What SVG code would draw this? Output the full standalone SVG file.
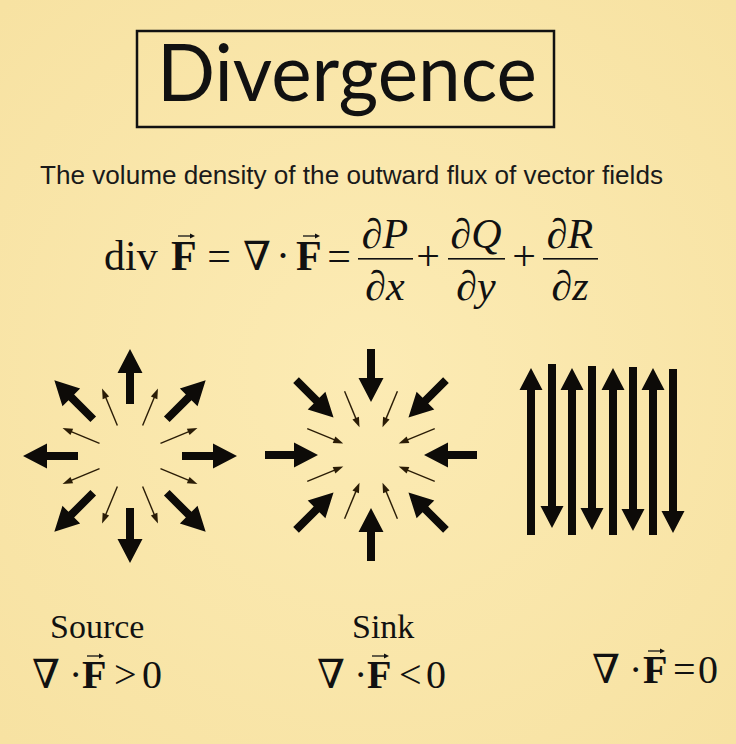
<svg xmlns="http://www.w3.org/2000/svg" xmlns:xlink="http://www.w3.org/1999/xlink" width="736" height="744" viewBox="0 0 736 744">
<style>
.serif{font-family:"Liberation Serif","DejaVu Serif",serif;fill:#111}
.m{font-size:42px}
.b{font-weight:bold}
.i{font-style:italic}
.lab{font-size:34px}
.row{font-size:40px}
.nab{font-family:"DejaVu Serif","Liberation Serif",serif}
.thin line{stroke:#2a1c06;stroke-width:1.4}
.thin polygon{fill:#2a1c06}
.big{fill:#0d0b08}
.vec line{stroke:#111;stroke-width:1.3}
.vec polygon{fill:#111}
</style>
<defs>
<radialGradient id="bg" cx="50%" cy="50%" r="70%">
<stop offset="0" stop-color="#fcebb4"/>
<stop offset="1" stop-color="#f7e2a2"/>
</radialGradient>
<polygon id="bigOut" points="52,-4 83,-4 83,-12.5 107,0 83,12.5 83,4 52,4"/>
<polygon id="bigIn" points="106,-4 77,-4 77,-12.5 53,0 77,12.5 77,4 106,4"/>
<g id="thinOut" class="thin"><line x1="33" y1="0" x2="65" y2="0"/><polygon points="63,-3.5 73,0 63,3.5"/></g>
<g id="thinIn" class="thin"><line x1="69" y1="0" x2="38" y2="0"/><polygon points="40,-3.5 30,0 40,3.5"/></g>
<g id="vec" class="vec"><line x1="-8" y1="0" x2="6" y2="0"/><polygon points="4,-2.5 9,0 4,2.5"/></g>
<polygon id="upA" points="-4,167 -4,22 -11.5,22 0,0 11.5,22 4,22 4,167"/>
<polygon id="downA" points="-4,0 -4,142 -11.5,142 0,164 11.5,142 4,142 4,0"/>
</defs>
<rect width="736" height="744" fill="url(#bg)"/>

<g id="title">
<rect x="137" y="31" width="417" height="96" fill="none" stroke="#111" stroke-width="2.5"/>
<text x="157" y="101" font-family="Lato,'Open Sans',sans-serif" font-size="80" textLength="380" lengthAdjust="spacingAndGlyphs" fill="#111">Divergence</text>
</g>

<g id="subtitle">
<text x="40" y="184" font-family="'Liberation Sans',Arial,sans-serif" font-size="26" textLength="623" lengthAdjust="spacingAndGlyphs" fill="#1a1a1a">The volume density of the outward flux of vector fields</text>
</g>

<g id="formula" class="serif m">
<text x="104" y="270">div</text>
<text x="171" y="270" class="b">F</text>
<use xlink:href="#vec" transform="translate(186,236)"/>
<text x="219" y="270" text-anchor="middle">=</text>
<text x="257" y="270" text-anchor="middle" class="nab" font-size="40">∇</text>
<text x="283" y="270" text-anchor="middle">·</text>
<text x="296" y="270" class="b">F</text>
<use xlink:href="#vec" transform="translate(311,236)"/>
<text x="339" y="270" text-anchor="middle">=</text>
<text x="385" y="248" text-anchor="middle" class="i">∂P</text>
<rect x="358" y="258" width="55" height="1.6" fill="#111"/>
<text x="385" y="300" text-anchor="middle" class="i">∂x</text>
<text x="428" y="270" text-anchor="middle">+</text>
<text x="476" y="248" text-anchor="middle" class="i">∂Q</text>
<rect x="448" y="258" width="57" height="1.6" fill="#111"/>
<text x="476" y="300" text-anchor="middle" class="i">∂y</text>
<text x="524" y="270" text-anchor="middle">+</text>
<text x="570" y="248" text-anchor="middle" class="i">∂R</text>
<rect x="543" y="258" width="55" height="1.6" fill="#111"/>
<text x="570" y="300" text-anchor="middle" class="i">∂z</text>
</g>

<g id="source">
<g class="big">
<use xlink:href="#bigOut" transform="translate(130,456) rotate(0)"/>
<use xlink:href="#bigOut" transform="translate(130,456) rotate(45)"/>
<use xlink:href="#bigOut" transform="translate(130,456) rotate(90)"/>
<use xlink:href="#bigOut" transform="translate(130,456) rotate(135)"/>
<use xlink:href="#bigOut" transform="translate(130,456) rotate(180)"/>
<use xlink:href="#bigOut" transform="translate(130,456) rotate(225)"/>
<use xlink:href="#bigOut" transform="translate(130,456) rotate(270)"/>
<use xlink:href="#bigOut" transform="translate(130,456) rotate(315)"/>
</g>
<use xlink:href="#thinOut" transform="translate(130,456) rotate(22.5)"/>
<use xlink:href="#thinOut" transform="translate(130,456) rotate(67.5)"/>
<use xlink:href="#thinOut" transform="translate(130,456) rotate(112.5)"/>
<use xlink:href="#thinOut" transform="translate(130,456) rotate(157.5)"/>
<use xlink:href="#thinOut" transform="translate(130,456) rotate(202.5)"/>
<use xlink:href="#thinOut" transform="translate(130,456) rotate(247.5)"/>
<use xlink:href="#thinOut" transform="translate(130,456) rotate(292.5)"/>
<use xlink:href="#thinOut" transform="translate(130,456) rotate(337.5)"/>
</g>

<g id="sink">
<g class="big">
<use xlink:href="#bigIn" transform="translate(371,455) rotate(0)"/>
<use xlink:href="#bigIn" transform="translate(371,455) rotate(45)"/>
<use xlink:href="#bigIn" transform="translate(371,455) rotate(90)"/>
<use xlink:href="#bigIn" transform="translate(371,455) rotate(135)"/>
<use xlink:href="#bigIn" transform="translate(371,455) rotate(180)"/>
<use xlink:href="#bigIn" transform="translate(371,455) rotate(225)"/>
<use xlink:href="#bigIn" transform="translate(371,455) rotate(270)"/>
<use xlink:href="#bigIn" transform="translate(371,455) rotate(315)"/>
</g>
<use xlink:href="#thinIn" transform="translate(371,455) rotate(22.5)"/>
<use xlink:href="#thinIn" transform="translate(371,455) rotate(67.5)"/>
<use xlink:href="#thinIn" transform="translate(371,455) rotate(112.5)"/>
<use xlink:href="#thinIn" transform="translate(371,455) rotate(157.5)"/>
<use xlink:href="#thinIn" transform="translate(371,455) rotate(202.5)"/>
<use xlink:href="#thinIn" transform="translate(371,455) rotate(247.5)"/>
<use xlink:href="#thinIn" transform="translate(371,455) rotate(292.5)"/>
<use xlink:href="#thinIn" transform="translate(371,455) rotate(337.5)"/>
</g>

<g id="parallel" class="big">
<use xlink:href="#upA" transform="translate(531,368)"/>
<use xlink:href="#downA" transform="translate(552,364)"/>
<use xlink:href="#upA" transform="translate(572,368)"/>
<use xlink:href="#downA" transform="translate(592,366)"/>
<use xlink:href="#upA" transform="translate(613,368)"/>
<use xlink:href="#downA" transform="translate(633,367)"/>
<use xlink:href="#upA" transform="translate(653,368)"/>
<use xlink:href="#downA" transform="translate(673,369)"/>
</g>

<g id="labels" class="serif">
<text x="50" y="638" class="lab">Source</text>
<text y="688" class="row"><tspan x="32" class="nab">∇</tspan><tspan x="69">·</tspan><tspan x="82" class="b">F</tspan><tspan x="114">&gt;</tspan><tspan x="142">0</tspan></text>
<use xlink:href="#vec" transform="translate(95,656)"/>

<text x="352" y="638" class="lab">Sink</text>
<text y="688" class="row"><tspan x="317" class="nab">∇</tspan><tspan x="354">·</tspan><tspan x="367" class="b">F</tspan><tspan x="399">&lt;</tspan><tspan x="426">0</tspan></text>
<use xlink:href="#vec" transform="translate(380,656)"/>

<text y="683" class="row"><tspan x="592" class="nab">∇</tspan><tspan x="629">·</tspan><tspan x="643" class="b">F</tspan><tspan x="673">=</tspan><tspan x="698">0</tspan></text>
<use xlink:href="#vec" transform="translate(656,651)"/>
</g>
</svg>
